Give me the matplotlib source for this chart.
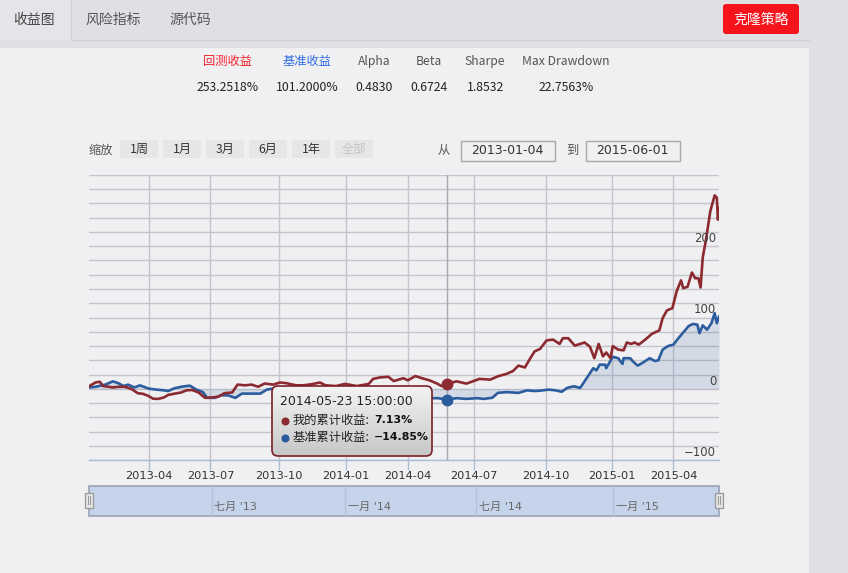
import numpy as np
import matplotlib
matplotlib.use("Agg")
import matplotlib.pyplot as plt
from matplotlib.patches import Rectangle, FancyBboxPatch

plt.rcParams['font.family'] = ['Noto Sans CJK SC', 'DejaVu Sans']

# x axis is ordinal (trading sessions since 2013-01-04), same as the stock chart
my_x = [0, 6, 10, 13, 18, 22, 27, 33, 39, 45, 50, 55, 59, 64, 69, 73, 79, 85, 90, 95, 101, 107, 113, 119, 125, 132,
        137, 144, 150, 156, 162, 170, 176, 182, 191, 198, 207, 213, 218, 228, 236, 247, 258, 262, 268, 276, 281,
        290, 294, 301, 307, 314, 321, 325, 330, 339, 348, 354, 360, 370, 377, 385, 391, 396, 402, 407, 411, 416,
        422, 428, 434, 437, 442, 448, 453, 457, 462, 466, 470, 474, 477, 481, 483, 488, 493, 496, 500, 503, 507,
        513, 519, 526, 529, 533, 538, 542, 546, 548, 552, 556, 559, 562, 564, 566, 569, 573, 577, 579, 580, 581]
my_y = [3.6, 9, 10, 4, 3, 2, 3, 3, 0, -6, -7, -10, -13.7, -14, -12, -8.5, -6.6, -5, -2, -1.5, -5, -12.5, -12, -11, -6, -5,
        6, 5, 6, 3, 7.5, 6, 9, 8, 5, 5, 7, 9, 5, 4, 7, 4, 7, 14, 16, 17, 11,
        15, 12, 18, 15, 12, 7.5, 4, 7.13, 10.6, 7.4, 10.6, 14, 13, 17.6, 21, 25, 32.6, 30, 43, 52.6, 56,
        68, 69, 63, 71, 71, 60.6, 63, 65, 59, 43, 63, 45.6, 51, 43, 60, 55, 54, 65, 63, 65, 62,
        69, 77, 82, 99, 110, 113, 137, 152, 141, 143, 163, 155, 155, 142, 184, 209, 249, 271, 268, 237, 253.25]

base_x = [0, 6, 15, 22, 27, 32, 36, 42, 47, 55, 62, 69, 73, 79, 85, 93, 99, 105, 109, 116, 122, 128, 135, 141, 150, 158,
          164, 170, 180, 195, 210, 225, 240, 255, 270, 285, 300, 315, 322, 330, 339, 348, 358, 364, 372, 377, 385,
          396, 404, 411, 416, 424, 430, 436, 441, 447, 453, 457, 462, 465, 468, 471, 476, 477, 483, 488, 492, 493,
          499, 502, 506, 511, 517, 522, 525, 529, 534, 539, 543, 548, 553, 557, 561, 563, 566, 570, 574, 577, 579, 581]
base_y = [2, 3, 6, 10.6, 8, 4, 6, 2, 5, 0.4, -1, -2, -3, 1, 3, 4.6, -1, -4.5, -12.5, -12.5, -9, -9, -12.5, -6.6, -6.6, -6.6,
          -1, 0.5, -4, -6, -5, -8, -9, -8, -11, -10, -12, -13, -13, -14.85, -13, -14, -13, -14, -12.4, -5.6, -4.5,
          -5.6, -2, -3, -2.5, -1, -2, -4, 1.4, 3.7, 1.4, 10.6, 22, 29, 26, 34, 34, 29, 45, 43, 35, 43,
          43, 38, 32.6, 37, 43, 39, 40, 55, 60, 62, 70, 79, 88, 91, 90, 78, 89, 83, 92, 106, 92, 101.2]

tick_pos = [55, 112, 175, 237, 294, 355, 421, 482, 539]
tick_labels = ['2013-04', '2013-07', '2013-10', '2014-01', '2014-04', '2014-07', '2014-10', '2015-01', '2015-04']
y_labels = {200: '200', 100: '100', 0: '0', -100: '\u2212100'}
hover_x = 330
hover_my = 7.13
hover_base = -14.85

stat_names = ['回测收益', '基准收益', 'Alpha', 'Beta', 'Sharpe', 'Max Drawdown']
stat_values = ['253.2518%', '101.2000%', '0.4830', '0.6724', '1.8532', '22.7563%']
stat_xs = [228, 307, 374, 429, 485, 566]
stat_colors = ['#f5222d', '#2f6fe8', '#555555', '#555555', '#555555', '#555555']
range_labels = ['1周', '1月', '3月', '6月', '1年', '全部']
nav_labels = ["七月 '13", "一月 '14", "七月 '14", "一月 '15"]
nav_xs = [211.5, 344.7, 475.8, 612.8]

RED = '#8b2a30'
BLUE = '#2b5c9e'
GRID = '#c4c4cc'
W, H = 848, 573

fig = plt.figure(figsize=(W / 100, H / 100), dpi=100, facecolor='#dfdfe4')

# page stuff goes on a pixel axes behind the chart
bg = fig.add_axes([0, 0, 1, 1], zorder=0)
bg.set_xlim(0, W)
bg.set_ylim(H, 0)
bg.axis('off')
bg.add_patch(Rectangle((0, 48), 809, H - 48, fc='#f0eff1', ec='none'))
bg.add_patch(Rectangle((0, 0), 71, 40, fc='#e5e5e9', ec='none'))
bg.plot([71, 71, 809], [0, 39.5, 39.5], color='#d0d0d8', lw=1)
bg.text(34, 20, '收益图', fontsize=10, color='#444444', ha='center', va='center')
bg.text(113, 20, '风险指标', fontsize=10, color='#555555', ha='center', va='center')
bg.text(190, 20, '源代码', fontsize=10, color='#555555', ha='center', va='center')
bg.add_patch(FancyBboxPatch((725, 6), 72, 26, boxstyle='round,pad=2,rounding_size=3', fc='#f5141c', ec='none'))
bg.text(761, 20, '克隆策略', fontsize=10, color='white', ha='center', va='center')

for name, val, sx, c in zip(stat_names, stat_values, stat_xs, stat_colors):
    bg.text(sx, 61.5, name, fontsize=8.8, color=c, ha='center', va='center')
    bg.text(sx, 87.5, val, fontsize=8.8, color='#222222', ha='center', va='center')

bg.text(101, 150, '缩放', fontsize=8.8, color='#555555', ha='center', va='center')
for i, lab in enumerate(range_labels):
    left = 120 + i * 43
    bg.add_patch(Rectangle((left, 140), 38, 18, fc='#e6e6e8', ec='none'))
    bg.text(left + 19, 149, lab, fontsize=8.8, color='#c4c4c4' if lab == '全部' else '#333333', ha='center', va='center')

bg.text(444, 150, '从', fontsize=8.8, color='#555555', ha='center', va='center')
bg.text(572, 150, '到', fontsize=8.8, color='#555555', ha='center', va='center')
for left, lab in [(460.5, '2013-01-04'), (585.5, '2015-06-01')]:
    bg.add_patch(Rectangle((left, 140.5), 94, 20, fc='#f0eff1', ec='#a8a8a8', lw=1))
    bg.text(left + 47, 150, lab, fontsize=9, family='DejaVu Sans', color='#333333', ha='center', va='center')

# navigator under the chart
bg.add_patch(Rectangle((89, 485.5), 630, 30, fc='#c5d4ea', ec='#9aa3b5', lw=1.2))
for nx, lab in zip(nav_xs, nav_labels):
    bg.plot([nx, nx], [486, 515], color='#b5c3da', lw=1)
    bg.text(nx + 3, 507, lab, fontsize=8, color='#666666', ha='left', va='center',
            family=['DejaVu Sans', 'Noto Sans CJK SC'])
for hx in [88.5, 718.5]:
    bg.add_patch(Rectangle((hx - 4, 492.5), 8, 15, fc='#e4e4e4', ec='#999999', lw=0.9))
    bg.plot([hx - 1, hx - 1], [496, 504], color='#999999', lw=0.7)
    bg.plot([hx + 1, hx + 1], [496, 504], color='#999999', lw=0.7)

# main chart
ax = fig.add_axes([89 / W, 1 - 460.3 / H, 630 / W, (460.3 - 174.7) / H], zorder=1)
ax.patch.set_alpha(0)
ax.set_xlim(0, 581)
ax.set_ylim(-100, 300)
for s in ['top', 'left', 'right']:
    ax.spines[s].set_visible(False)
ax.spines['bottom'].set_color('#a9bcd8')
ax.spines['bottom'].set_linewidth(1)

ax.set_yticks(np.arange(-100, 301, 20))
ax.tick_params(axis='y', length=0, labelleft=False)
ax.set_xticks(tick_pos)
ax.set_xticklabels(tick_labels, fontsize=8.2, color='#333333', family='DejaVu Sans')
ax.tick_params(axis='x', length=7, width=1, color='#a9bcd8', pad=1)
ax.grid(True, color=GRID, lw=1)
ax.set_axisbelow(True)
ax.axvline(hover_x, color='#a8a8ae', lw=1, zorder=1)

ax.fill_between(base_x, base_y, 0, color=BLUE, alpha=0.14, lw=0, zorder=2)
ax.plot(base_x, base_y, color=BLUE, lw=1.9, zorder=3)
ax.plot(my_x, my_y, color=RED, lw=1.9, zorder=4)
ax.plot([hover_x], [hover_my], 'o', color=RED, ms=7.5, zorder=5)
ax.plot([hover_x], [hover_base], 'o', color=BLUE, ms=7.5, zorder=5)

for v, lab in y_labels.items():
    ax.annotate(lab, xy=(1, v), xycoords=ax.get_yaxis_transform(), xytext=(-2, 1), textcoords='offset points',
                ha='right', va='bottom', fontsize=8.4, color='#444444', family='DejaVu Sans', zorder=6)

# tooltip on top of everything
top = fig.add_axes([0, 0, 1, 1], zorder=2)
top.set_xlim(0, W)
top.set_ylim(H, 0)
top.axis('off')
box = FancyBboxPatch((275, 389), 154, 64, boxstyle='round,pad=3,rounding_size=6', fc='none', ec='#7d1f28', lw=1.2, zorder=3)
top.add_patch(box)
grad = top.imshow(np.linspace(0.95, 0.78, 64).reshape(-1, 1), extent=(272, 432, 456, 386), cmap='gray', vmin=0, vmax=1,
                  aspect='auto', zorder=2)
grad.set_clip_path(box)
top.set_xlim(0, W)
top.set_ylim(H, 0)
top.text(280, 401.5, '2014-05-23 15:00:00', fontsize=9, color='#222222', family='DejaVu Sans', va='center', zorder=4)
top.plot([285], [420.5], 'o', color=RED, ms=4.8, zorder=4)
top.plot([285], [438], 'o', color=BLUE, ms=4.8, zorder=4)
top.text(293, 420, '我的累计收益:', fontsize=8.8, color='#222222', va='center', zorder=4)
top.text(293, 437.5, '基准累计收益:', fontsize=8.8, color='#222222', va='center', zorder=4)
top.text(374, 420, '7.13%', fontsize=7.9, color='#111111', weight='bold', family='DejaVu Sans', va='center', zorder=4)
top.text(374, 437.5, '\u221214.85%', fontsize=7.9, color='#111111', weight='bold', family='DejaVu Sans', va='center', zorder=4)

fig.savefig('out.png', dpi=100)
